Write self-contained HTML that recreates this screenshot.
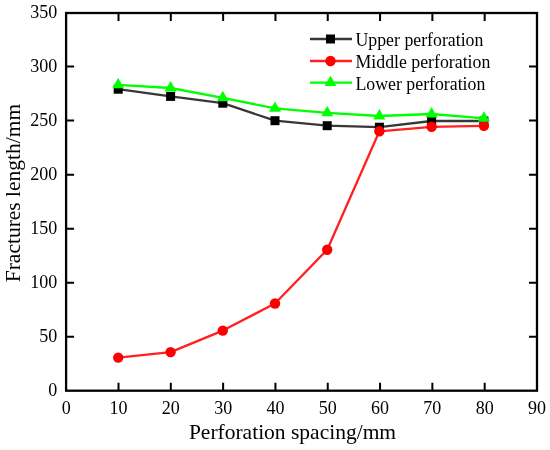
<!DOCTYPE html><html><head><meta charset="utf-8"><style>html,body{margin:0;padding:0;background:#fff;width:550px;height:450px;overflow:hidden}svg{display:block}text{font-family:'Liberation Serif','Times New Roman',serif;fill:#000}</style></head><body>
<svg width="550" height="450" viewBox="0 0 550 450">
<rect width="550" height="450" fill="#fff"/>
<polyline points="118.2,89.2 170.6,96.4 222.8,103.2 275.0,120.7 327.2,125.7 379.4,127.2 431.6,121.0 483.9,121.0" fill="none" stroke="#383838" stroke-width="2.3" stroke-linejoin="round"/>
<rect x="113.70" y="84.70" width="9.0" height="9.0" fill="#000"/>
<rect x="166.10" y="91.90" width="9.0" height="9.0" fill="#000"/>
<rect x="218.30" y="98.70" width="9.0" height="9.0" fill="#000"/>
<rect x="270.50" y="116.20" width="9.0" height="9.0" fill="#000"/>
<rect x="322.70" y="121.20" width="9.0" height="9.0" fill="#000"/>
<rect x="374.90" y="122.70" width="9.0" height="9.0" fill="#000"/>
<rect x="427.10" y="116.50" width="9.0" height="9.0" fill="#000"/>
<rect x="479.40" y="116.50" width="9.0" height="9.0" fill="#000"/>
<polyline points="118.2,357.6 170.6,352.1 222.8,330.6 275.0,303.5 327.2,249.7 379.4,131.3 431.6,126.8 483.9,125.8" fill="none" stroke="#ff2020" stroke-width="2.3" stroke-linejoin="round"/>
<circle cx="118.20" cy="357.60" r="5.20" fill="#ff0000"/>
<circle cx="170.60" cy="352.10" r="5.20" fill="#ff0000"/>
<circle cx="222.80" cy="330.60" r="5.20" fill="#ff0000"/>
<circle cx="275.00" cy="303.50" r="5.20" fill="#ff0000"/>
<circle cx="327.20" cy="249.70" r="5.20" fill="#ff0000"/>
<circle cx="379.40" cy="131.30" r="5.20" fill="#ff0000"/>
<circle cx="431.60" cy="126.80" r="5.20" fill="#ff0000"/>
<circle cx="483.90" cy="125.80" r="5.20" fill="#ff0000"/>
<polyline points="118.2,84.9 170.6,88.0 222.8,97.8 275.0,108.4 327.2,112.9 379.4,116.0 431.6,114.0 483.9,118.3" fill="none" stroke="#00ff00" stroke-width="2.3" stroke-linejoin="round"/>
<polygon points="118.20,77.97 112.20,88.37 124.20,88.37" fill="#00ff00"/>
<polygon points="170.60,81.07 164.60,91.47 176.60,91.47" fill="#00ff00"/>
<polygon points="222.80,90.87 216.80,101.27 228.80,101.27" fill="#00ff00"/>
<polygon points="275.00,101.47 269.00,111.87 281.00,111.87" fill="#00ff00"/>
<polygon points="327.20,105.97 321.20,116.37 333.20,116.37" fill="#00ff00"/>
<polygon points="379.40,109.07 373.40,119.47 385.40,119.47" fill="#00ff00"/>
<polygon points="431.60,107.07 425.60,117.47 437.60,117.47" fill="#00ff00"/>
<polygon points="483.90,111.37 477.90,121.77 489.90,121.77" fill="#00ff00"/>
<rect x="66.10" y="13.00" width="470.90" height="377.70" fill="none" stroke="#000" stroke-width="2.3"/>
<path d="M118.51 390.70V382.70M118.51 13.00V21.00M170.82 390.70V382.70M170.82 13.00V21.00M223.13 390.70V382.70M223.13 13.00V21.00M275.44 390.70V382.70M275.44 13.00V21.00M327.75 390.70V382.70M327.75 13.00V21.00M380.06 390.70V382.70M380.06 13.00V21.00M432.37 390.70V382.70M432.37 13.00V21.00M484.68 390.70V382.70M484.68 13.00V21.00M66.10 336.69H74.10M537.00 336.69H529.00M66.10 282.67H74.10M537.00 282.67H529.00M66.10 228.65H74.10M537.00 228.65H529.00M66.10 174.64H74.10M537.00 174.64H529.00M66.10 120.62H74.10M537.00 120.62H529.00M66.10 66.61H74.10M537.00 66.61H529.00" stroke="#000" stroke-width="2" fill="none"/>
<text x="66.20" y="413.8" font-size="18" text-anchor="middle">0</text>
<text x="118.51" y="413.8" font-size="18" text-anchor="middle">10</text>
<text x="170.82" y="413.8" font-size="18" text-anchor="middle">20</text>
<text x="223.13" y="413.8" font-size="18" text-anchor="middle">30</text>
<text x="275.44" y="413.8" font-size="18" text-anchor="middle">40</text>
<text x="327.75" y="413.8" font-size="18" text-anchor="middle">50</text>
<text x="380.06" y="413.8" font-size="18" text-anchor="middle">60</text>
<text x="432.37" y="413.8" font-size="18" text-anchor="middle">70</text>
<text x="484.68" y="413.8" font-size="18" text-anchor="middle">80</text>
<text x="536.99" y="413.8" font-size="18" text-anchor="middle">90</text>
<text x="57.2" y="396.10" font-size="18" text-anchor="end">0</text>
<text x="57.2" y="342.08" font-size="18" text-anchor="end">50</text>
<text x="57.2" y="288.07" font-size="18" text-anchor="end">100</text>
<text x="57.2" y="234.05" font-size="18" text-anchor="end">150</text>
<text x="57.2" y="180.04" font-size="18" text-anchor="end">200</text>
<text x="57.2" y="126.03" font-size="18" text-anchor="end">250</text>
<text x="57.2" y="72.01" font-size="18" text-anchor="end">300</text>
<text x="57.2" y="17.99" font-size="18" text-anchor="end">350</text>
<text x="292.5" y="439" font-size="21.5" text-anchor="middle">Perforation spacing/mm</text>
<text transform="translate(20,193) rotate(-90)" x="0" y="0" font-size="21.5" text-anchor="middle">Fractures length/mm</text>
<line x1="310.0" y1="39.0" x2="352.0" y2="39.0" stroke="#383838" stroke-width="2.3"/>
<rect x="326.00" y="34.50" width="9.0" height="9.0" fill="#000"/>
<line x1="310.0" y1="61.0" x2="352.0" y2="61.0" stroke="#ff2020" stroke-width="2.3"/>
<circle cx="330.50" cy="61.00" r="5.20" fill="#ff0000"/>
<line x1="310.0" y1="82.6" x2="352.0" y2="82.6" stroke="#00ff00" stroke-width="2.3"/>
<polygon points="330.50,75.67 324.50,86.07 336.50,86.07" fill="#00ff00"/>
<text x="355.5" y="46.20" font-size="17.8">Upper perforation</text>
<text x="355.5" y="68.20" font-size="17.8">Middle perforation</text>
<text x="355.5" y="89.80" font-size="17.8">Lower perforation</text>
</svg></body></html>
